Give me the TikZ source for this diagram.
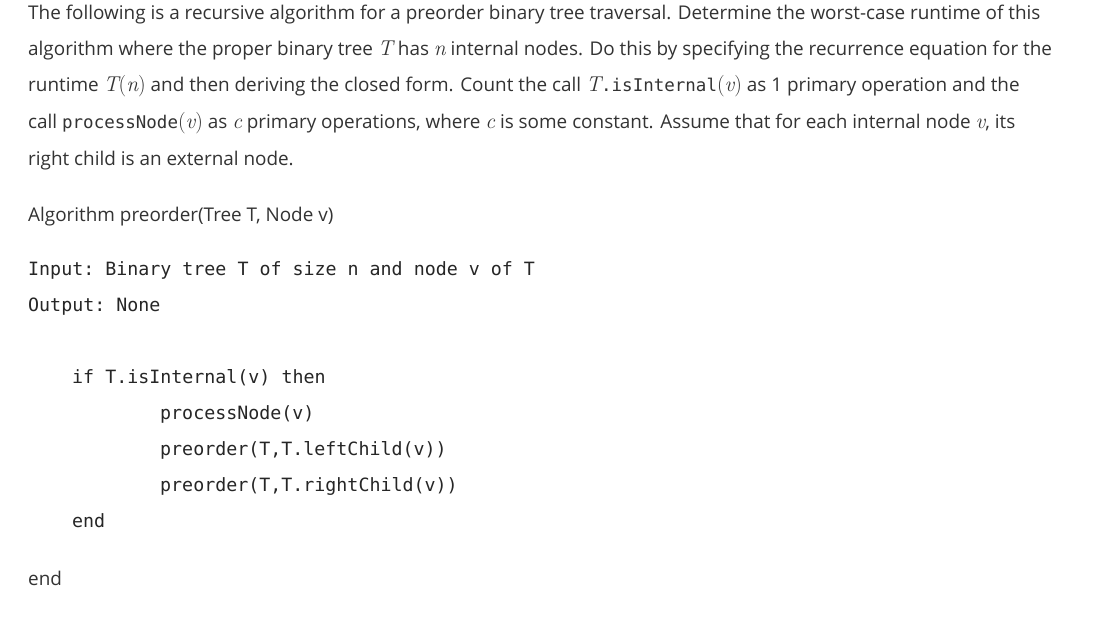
\documentclass[tikz,border=0pt]{standalone}
\usepackage{fontspec}
\setmainfont{Open Sans}
\setmonofont{DejaVu Sans Mono}
\newfontfamily\lmrom{Latin Modern Roman}
\newcommand{\mi}[1]{{\lmrom\fontsize{21.5}{22}\selectfont\itshape #1}}
\newcommand{\mr}[1]{{\lmrom\fontsize{21.5}{22}\selectfont #1}}
\begin{document}
\begin{tikzpicture}[x=1pt,y=-1pt,
  txt/.style={anchor=base west,inner sep=0,text=black!80,font=\fontsize{18.9}{20}\selectfont},
  code/.style={anchor=base west,inner sep=0,text=black!85,font=\ttfamily\fontsize{18.3}{20}\selectfont}]
\useasboundingbox[fill=white] (0,0) rectangle (1095,625);
\node[txt] (l1) at (28,19) {The following is a recursive algorithm for a preorder binary tree traversal. Determine the worst-case runtime of this};
\node[txt] (l2) at (28,55) {algorithm where the proper binary tree \mi{T} has \mi{n} internal nodes. Do this by specifying the recurrence equation for the};
\node[txt] (l3) at (28,91) {runtime \mi{T}\mr{(}\mi{n}\mr{)} and then deriving the closed form. Count the call \mi{T}{\fontsize{17.5}{20}\selectfont\texttt{.isInternal}}\mr{(}\mi{v}\mr{)} as 1 primary operation and the};
\node[txt] (l4) at (28,128) {call {\fontsize{17.5}{20}\selectfont\texttt{processNode}}\mr{(}\mi{v}\mr{)} as \mi{c} primary operations, where \mi{c} is some constant. Assume that for each internal node \mi{v}, its};
\node[txt] (l5) at (28,165) {right child is an external node.};
\node[txt] (alg) at (28,221) {Algorithm preorder(Tree T, Node v)};
\node[code] (in) at (28,275) {Input: Binary tree T of size n and node v of T};
\node[code] (out) at (28,311) {Output: None};
\node[code] (if) at (72,383) {if T.isInternal(v) then};
\node[code] (pn) at (160,419) {processNode(v)};
\node[code] (p1) at (160,455) {preorder(T,T.leftChild(v))};
\node[code] (p2) at (160,491) {preorder(T,T.rightChild(v))};
\node[code] (e1) at (72,527) {end};
\node[txt] (e2) at (28,585) {end};
\end{tikzpicture}
\end{document}
